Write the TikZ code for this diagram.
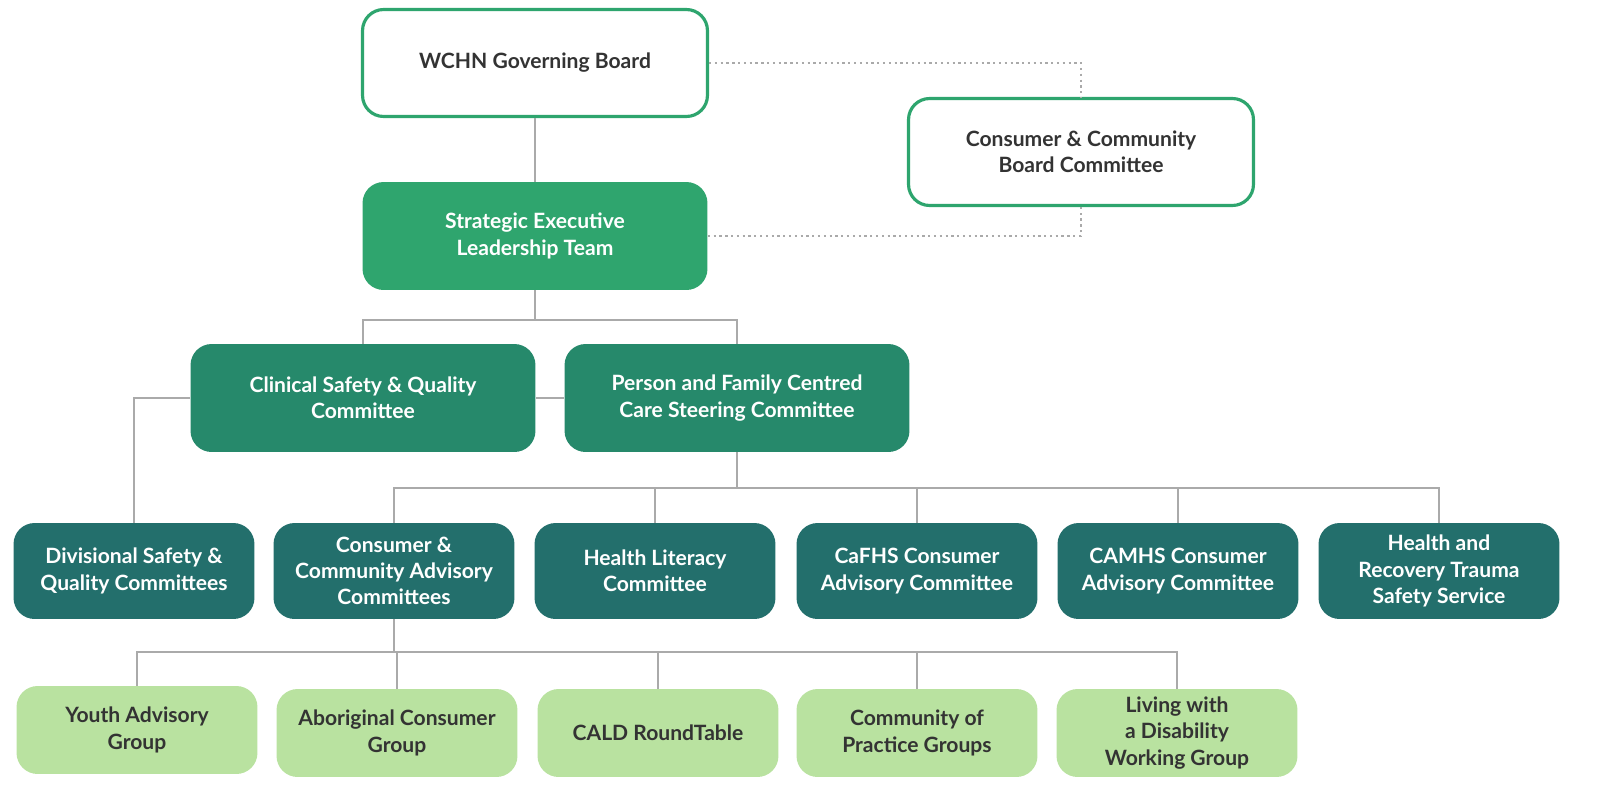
\documentclass[tikz,border=0pt]{standalone}
\usepackage{fontspec}
\setmainfont{Lato}
\usetikzlibrary{positioning}
\definecolor{brdgreen}{HTML}{2EA56E}
\definecolor{midgreen}{HTML}{2FA56E}
\definecolor{drkgreen}{HTML}{26896B}
\definecolor{teal}{HTML}{236F6C}
\definecolor{light}{HTML}{B9E2A0}
\definecolor{txt}{HTML}{333333}
\definecolor{conn}{HTML}{AAAAAA}

\begin{document}
\begin{tikzpicture}[x=0.02cm,y=-0.02cm,
  box/.style={rounded corners=12pt,align=center,font=\fontsize{12}{15}\selectfont\bfseries,inner sep=0pt},
  top/.style={box,draw=brdgreen,line width=1.8pt,fill=white,text=txt,minimum width=6.9cm,minimum height=2.14cm},
  big/.style={box,text=white,minimum width=6.9cm,minimum height=2.16cm},
  mid/.style={box,fill=teal,text=white,minimum width=4.82cm,minimum height=1.92cm},
  low/.style={box,fill=light,text=txt,minimum width=4.82cm,minimum height=1.76cm},
  link/.style={conn,line width=1.3pt},
  dots/.style={conn,line width=1.3pt,dotted}]
  \useasboundingbox (0,0) rectangle (1600,801);

  \node[top] (board) at (535,63) {WCHN Governing Board};
  \node[top] (ccbc) at (1081,152) {Consumer \& Community\\Board Committee};
  \node[big,fill=midgreen] (selt) at (535,236) {Strategic Executive\\Leadership Team};
  \node[big,fill=drkgreen] (csq) at (363,398) {Clinical Safety \& Quality\\Committee};
  \node[big,fill=drkgreen] (pfcc) at (737,398) {Person and Family Centred\\Care Steering Committee};

  \node[mid] (div) at (134,571) {Divisional Safety \&\\Quality Committees};
  \node[mid] (ccac) at (394,571) {Consumer \&\\Community Advisory\\Committees};
  \node[mid] (hlc) at (655,571) {Health Literacy\\Committee};
  \node[mid] (cafhs) at (917,571) {CaFHS Consumer\\Advisory Committee};
  \node[mid] (camhs) at (1178,571) {CAMHS Consumer\\Advisory Committee};
  \node[mid] (hrts) at (1439,571) {Health and\\Recovery Trauma\\Safety Service};

  \node[low] (yag) at (137,730) {Youth Advisory\\Group};
  \node[low] (acg) at (397,733) {Aboriginal Consumer\\Group};
  \node[low] (cald) at (658,733) {CALD RoundTable};
  \node[low] (cop) at (917,733) {Community of\\Practice Groups};
  \node[low] (lwd) at (1177,733) {Living with\\a Disability\\Working Group};

  % board links
  \draw[link] (board) -- (selt);
  \draw[dots] (board.east) -| (ccbc.north);
  \draw[dots] (selt.east) -| (ccbc.south);

  % committees
  \coordinate (j1) at (535,320);
  \draw[link] (selt) -- (j1);
  \draw[link] (csq.north) |- (j1) -| (pfcc.north);
  \draw[link] (csq) -- (pfcc);
  \draw[link] (csq.west) -| (div.north);

  \coordinate (j2) at (737,488);
  \draw[link] (pfcc) -- (j2);
  \foreach \n in {ccac,hlc,cafhs,camhs,hrts}
    \draw[link] (\n.north) |- (j2);

  \coordinate (j3) at (394,652);
  \draw[link] (ccac) -- (j3);
  \foreach \n in {yag,acg,cald,cop,lwd}
    \draw[link] (\n.north) |- (j3);
\end{tikzpicture}
\end{document}
